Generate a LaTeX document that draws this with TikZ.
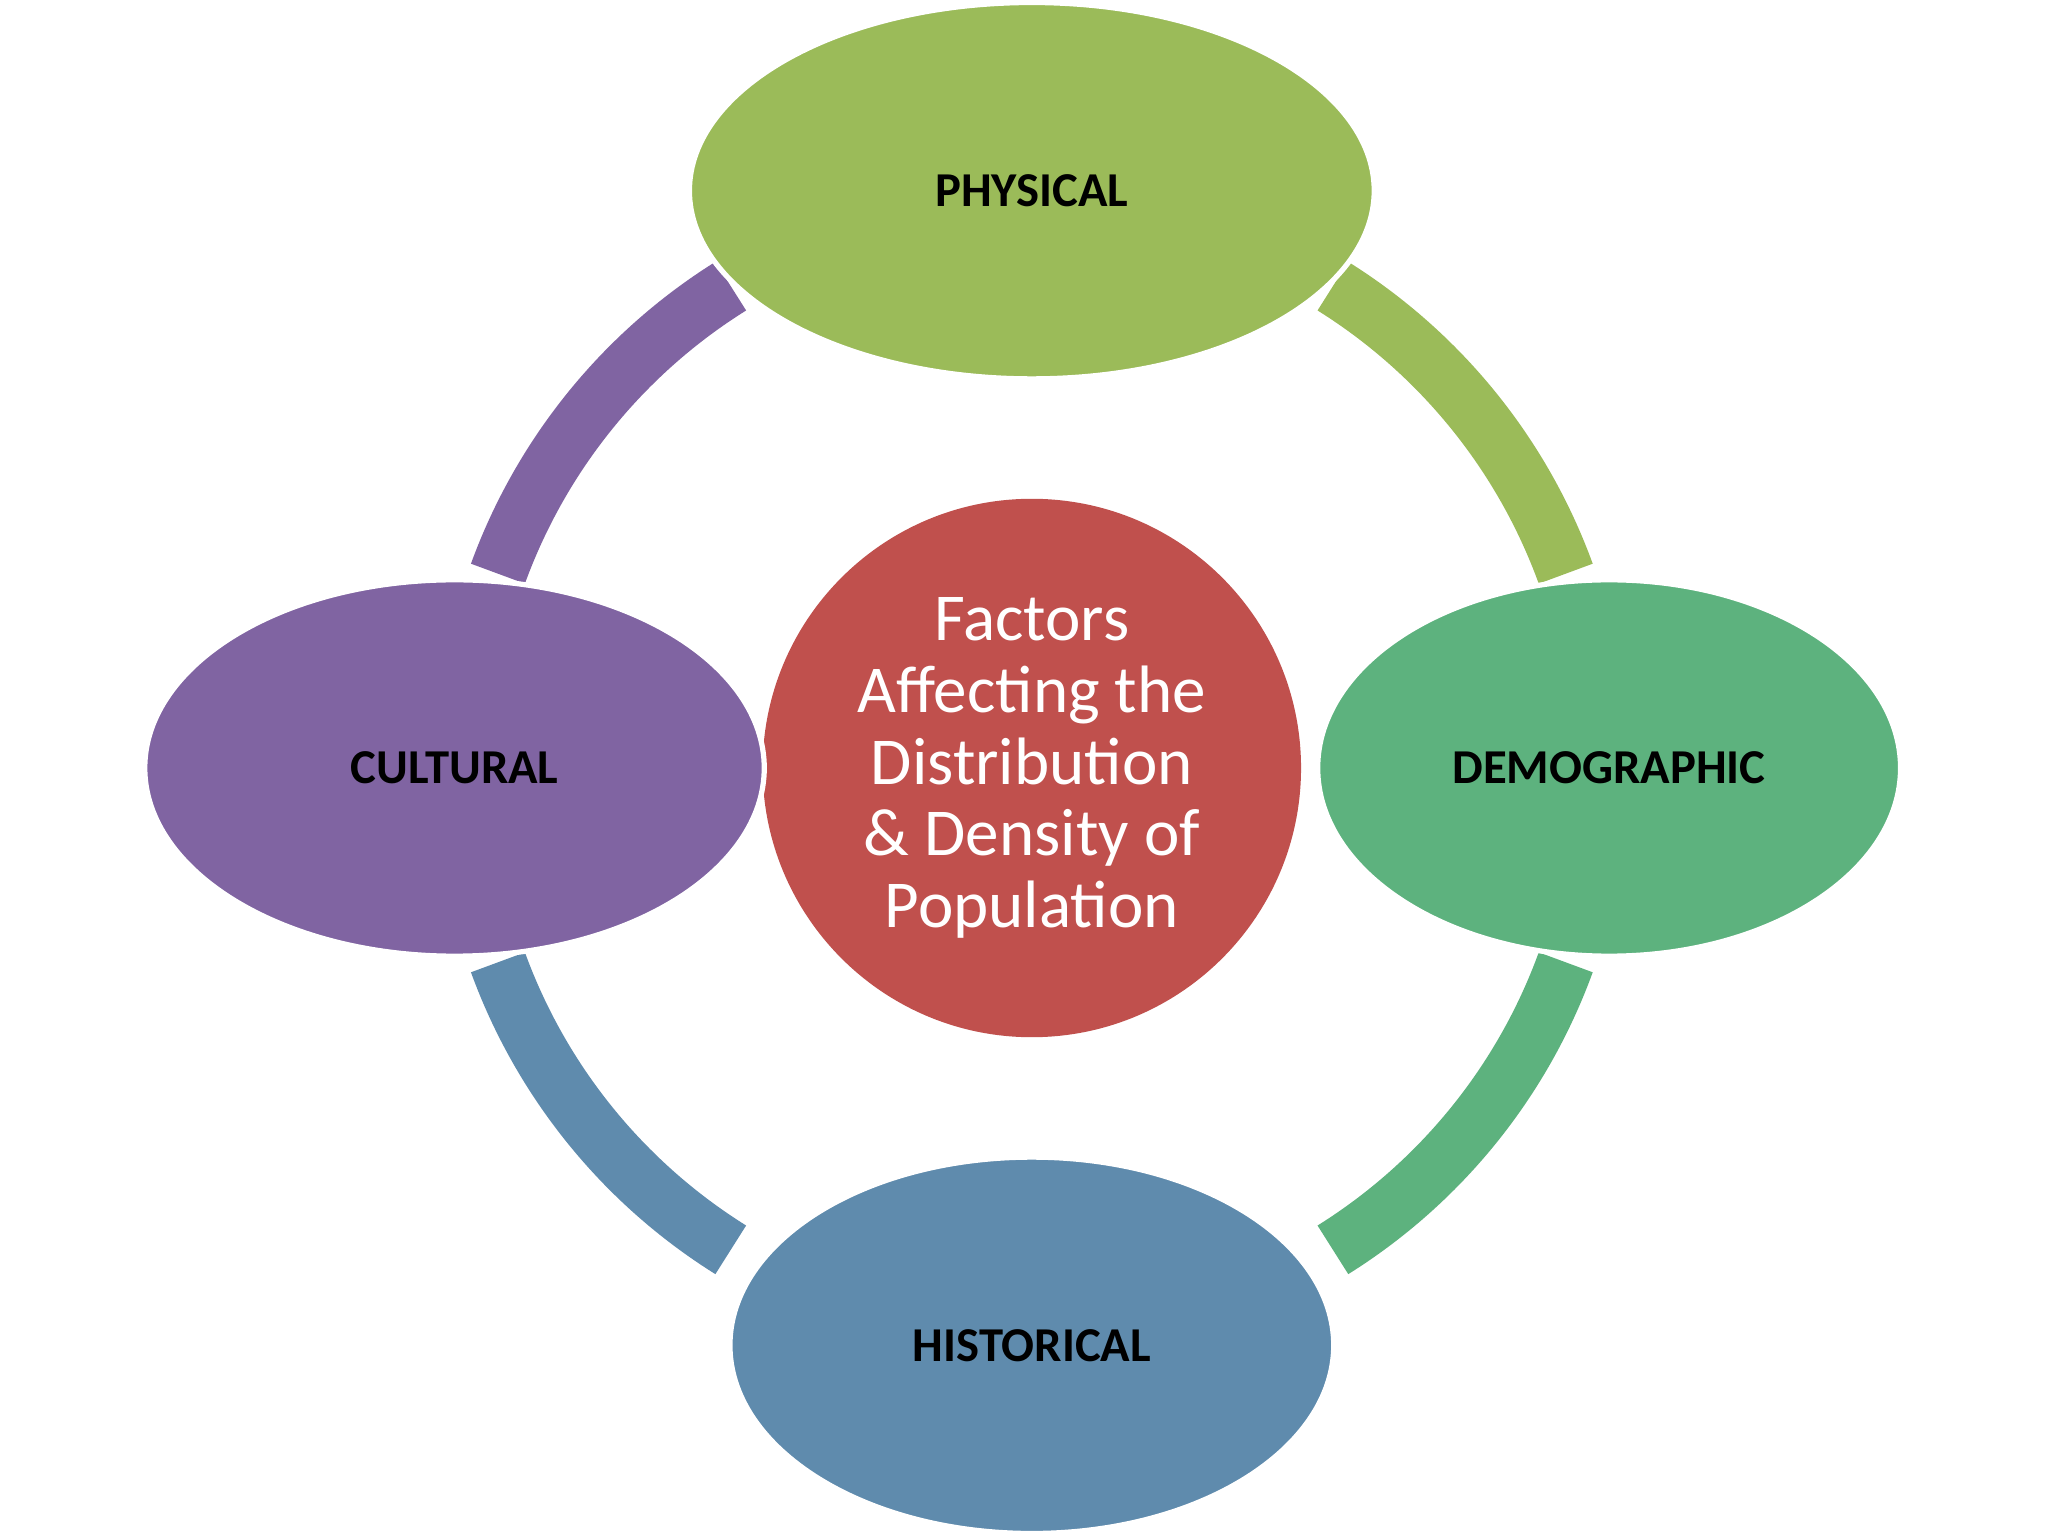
\documentclass[tikz,border=0pt]{standalone}
\usepackage{fontspec}
\setmainfont{Carlito}
\usetikzlibrary{shapes.geometric}
\definecolor{cgreen}{HTML}{9BBB59}
\definecolor{cteal}{HTML}{5DB27E}
\definecolor{cblue}{HTML}{5F8BAD}
\definecolor{cpurple}{HTML}{8064A2}
\definecolor{cred}{HTML}{C0504D}
\tikzset{
 ell/.style={ellipse,draw=white,line width=0.04cm,inner sep=0pt,font=\fontsize{10.6}{12}\selectfont\bfseries,text=black},
 band/.style={line width=0.44cm},
}
\begin{document}
\begin{tikzpicture}[x=0.01cm,y=-0.01cm]
\useasboundingbox (0,0) rectangle (1568,1176);
\fill[white] (0,0) rectangle (1568,1176);
\coordinate (c) at (790,588);
\draw[band,cgreen] (c) ++(-20:435) arc[start angle=-20,end angle=-58,radius=435];
\draw[band,cpurple] (c) ++(-122:435) arc[start angle=-122,end angle=-160,radius=435];
\draw[band,cblue] (c) ++(160:435) arc[start angle=160,end angle=122,radius=435];
\draw[band,cteal] (c) ++(58:435) arc[start angle=58,end angle=20,radius=435];
\node[circle,fill=cred,minimum size=4.12cm,text=white,align=center,font=\fontsize{14.6}{15.6}\selectfont] (center) at (790,588) {Factors\\Affecting the\\Distribution\\\&~Density of\\Population};
\node[ell,fill=cgreen,minimum width=5.24cm,minimum height=2.88cm] (phys) at (790,146) {PHYSICAL};
\node[ell,fill=cteal,minimum width=4.46cm,minimum height=2.88cm] (demo) at (1232,588) {DEMOGRAPHIC};
\node[ell,fill=cblue,minimum width=4.62cm,minimum height=2.88cm] (hist) at (790,1030) {HISTORICAL};
\node[ell,fill=cpurple,minimum width=4.74cm,minimum height=2.88cm] (cult) at (348,588) {CULTURAL};
\end{tikzpicture}
\end{document}
